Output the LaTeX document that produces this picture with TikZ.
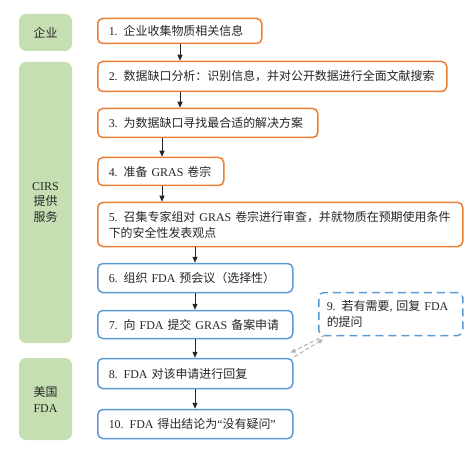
\documentclass[tikz,border=0pt]{standalone}
\usepackage{fontspec}
\setmainfont{Liberation Serif}
\newfontfamily\cjk{Noto Sans CJK SC}
\usetikzlibrary{arrows.meta}
\newcommand{\zh}[1]{{\cjk #1}}

\begin{document}
\begin{tikzpicture}[x=1bp,y=-1bp,font=\fontsize{12}{16}\selectfont]

\definecolor{ocolor}{HTML}{ED7D31}
\definecolor{bcolor}{HTML}{5B9BD5}
\definecolor{gcolor}{HTML}{C5DFB3}
\definecolor{mcolor}{HTML}{262626}

\tikzstyle{stagebox}=[fill=gcolor, rounded corners=7bp, minimum width=53bp, align=center, text=mcolor]
\tikzstyle{obox}=[draw=ocolor, line width=1.5bp, rounded corners=5bp, fill=white, align=left, inner xsep=11bp, inner ysep=0pt, anchor=west, text=mcolor]
\tikzstyle{bbox}=[obox, draw=bcolor]
\tikzstyle{dbox}=[bbox, dash pattern=on 8bp off 5bp]
\tikzstyle{arrow}=[line width=1bp, color=mcolor, -{Triangle[length=6bp,width=5bp]}]
\tikzstyle{garrow}=[line width=1bp, color=black!30, dash pattern=on 4bp off 2.5bp, -{Triangle[length=5bp,width=4.5bp]}]

\useasboundingbox (0,0) rectangle (474,451);

% stages
\node[stagebox, minimum height=37bp] (firm) at (45.5,32.5) {\zh{企业}};
\node[stagebox, minimum height=281bp] (cirs) at (45.5,202.5) {CIRS\\\zh{提供}\\\zh{服务}};
\node[stagebox, minimum height=82bp] (fda) at (45.5,399) {\zh{美国}\\FDA};

% steps
\node[obox, text width=142bp, minimum height=25bp] (b1) at (97,31) {1. \zh{企业收集物质相关信息}};
\node[obox, text width=327bp, minimum height=30bp] (b2) at (97,76.5) {2. \zh{数据缺口分析：识别信息，并对公开数据进行全面文献搜索}};
\node[obox, text width=198bp, minimum height=29bp] (b3) at (97,123) {3. \zh{为数据缺口寻找最合适的解决方案}};
\node[obox, text width=104bp, minimum height=28bp] (b4) at (97,171.5) {4. \zh{准备} GRAS \zh{卷宗}};
\node[obox, text width=343bp, minimum height=44bp] (b5) at (97,224.5) {5. \zh{召集专家组对} GRAS \zh{卷宗进行审查，并就物质在预期使用条件}\\\zh{下的安全性发表观点}};
\node[bbox, text width=173bp, minimum height=29bp] (b6) at (97,278) {6. \zh{组织} FDA \zh{预会议（选择性）}};
\node[bbox, text width=173bp, minimum height=28bp] (b7) at (97,324.5) {7. \zh{向} FDA \zh{提交} GRAS \zh{备案申请}};
\node[bbox, text width=173bp, minimum height=30bp] (b8) at (97,373.5) {8. FDA \zh{对该申请进行回复}};
\node[bbox, text width=173bp, minimum height=29bp] (b10) at (97,424) {10. FDA \zh{得出结论为}“\zh{没有疑问}”};
\node[dbox, inner xsep=8bp, text width=128bp, minimum height=43bp] (b9) at (318,314) {9. \zh{若有需要}, \zh{回复} FDA\\\zh{的提问}};

% flow
\draw[arrow] ([xshift=83bp]b1.south west) -- ([xshift=83bp]b2.north west);
\draw[arrow] ([xshift=83bp]b2.south west) -- ([xshift=83bp]b3.north west);
\draw[arrow] ([xshift=65bp]b3.south west) -- ([xshift=65bp]b4.north west);
\draw[arrow] ([xshift=65bp]b4.south west) -- ([xshift=65bp]b5.north west);
\draw[arrow] ([xshift=98bp]b5.south west) -- ([xshift=98bp]b6.north west);
\draw[arrow] ([xshift=98bp]b6.south west) -- ([xshift=98bp]b7.north west);
\draw[arrow] ([xshift=98bp]b7.south west) -- ([xshift=98bp]b8.north west);
\draw[arrow] ([xshift=98bp]b8.south west) -- ([xshift=98bp]b10.north west);

% optional reply
\draw[garrow] ([shift={(1,-1)}]b8.north east) -- ([shift={(5,3)}]b9.south west);
\draw[garrow] ([shift={(7,-1)}]b9.south west) -- ([shift={(-3,-5)}]b8.north east);

\end{tikzpicture}
\end{document}
